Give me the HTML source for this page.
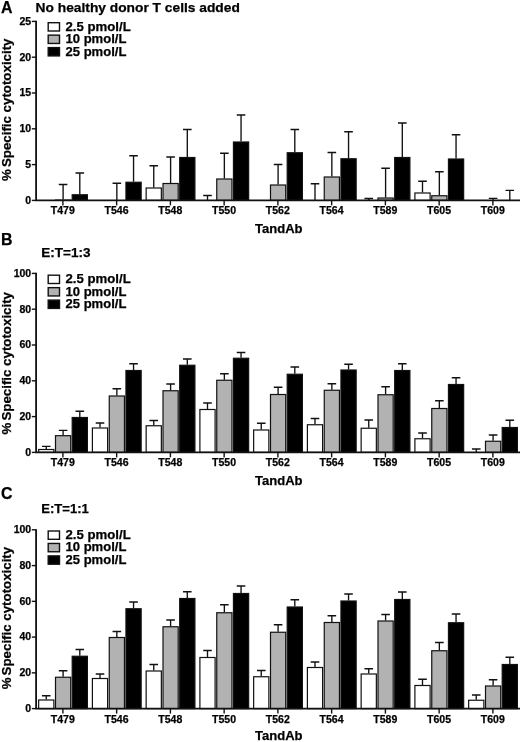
<!DOCTYPE html>
<html lang="en"><head><meta charset="utf-8"><title>TandAb cytotoxicity</title>
<style>
html,body{margin:0;padding:0;background:#fff}
svg{display:block}
text{font-family:"Liberation Sans",Arial,Helvetica,sans-serif;font-weight:bold;fill:#000;stroke:#000;stroke-width:0.25}
.pl{font-size:15.8px}
.tt{font-size:13.3px}
.lg{font-size:12.8px}
.xl{font-size:10.8px}
.yl{font-size:10.5px;text-anchor:end}
.b{stroke:#111;stroke-width:1.2}
.lb{stroke:#111;stroke-width:1.4}
.e{stroke:#111;stroke-width:1.35;fill:none}
.ax{stroke:#111;stroke-width:1.8;fill:none;stroke-linejoin:miter}
.tk{stroke:#111;stroke-width:1.4;fill:none}
</style></head><body>
<svg width="520" height="742" viewBox="0 0 520 742">
<rect width="520" height="742" fill="#fff"/>
<path d="M63.10 199.60V184.50M58.80 184.50H67.40" class="e"/>
<rect x="55.50" y="200.10" width="15.20" height="0.30" fill="#b2b2b2" class="b"/>
<path d="M79.80 194.25V173.00M75.50 173.00H84.10" class="e"/>
<rect x="72.20" y="194.75" width="15.20" height="5.65" fill="#000" class="b"/>
<path d="M116.85 200.40V183.25M112.55 183.25H121.15" class="e"/>
<path d="M133.55 181.75V155.75M129.25 155.75H137.85" class="e"/>
<rect x="125.95" y="182.25" width="15.20" height="18.15" fill="#000" class="b"/>
<path d="M153.75 187.50V165.75M149.45 165.75H158.05" class="e"/>
<rect x="146.15" y="188.00" width="15.20" height="12.40" fill="#fff" class="b"/>
<path d="M170.60 183.00V157.00M166.30 157.00H174.90" class="e"/>
<rect x="163.00" y="183.50" width="15.20" height="16.90" fill="#b2b2b2" class="b"/>
<path d="M187.30 157.00V129.50M183.00 129.50H191.60" class="e"/>
<rect x="179.70" y="157.50" width="15.20" height="42.90" fill="#000" class="b"/>
<path d="M207.50 200.40V195.50M203.20 195.50H211.80" class="e"/>
<path d="M224.35 178.50V153.25M220.05 153.25H228.65" class="e"/>
<rect x="216.75" y="179.00" width="15.20" height="21.40" fill="#b2b2b2" class="b"/>
<path d="M241.05 141.50V115.00M236.75 115.00H245.35" class="e"/>
<rect x="233.45" y="142.00" width="15.20" height="58.40" fill="#000" class="b"/>
<path d="M278.10 184.50V164.50M273.80 164.50H282.40" class="e"/>
<rect x="270.50" y="185.00" width="15.20" height="15.40" fill="#b2b2b2" class="b"/>
<path d="M294.80 152.25V129.50M290.50 129.50H299.10" class="e"/>
<rect x="287.20" y="152.75" width="15.20" height="47.65" fill="#000" class="b"/>
<path d="M315.00 200.40V183.75M310.70 183.75H319.30" class="e"/>
<path d="M331.85 176.50V152.50M327.55 152.50H336.15" class="e"/>
<rect x="324.25" y="177.00" width="15.20" height="23.40" fill="#b2b2b2" class="b"/>
<path d="M348.55 158.25V131.75M344.25 131.75H352.85" class="e"/>
<rect x="340.95" y="158.75" width="15.20" height="41.65" fill="#000" class="b"/>
<path d="M368.75 200.40V198.50M364.45 198.50H373.05" class="e"/>
<path d="M385.60 197.50V168.25M381.30 168.25H389.90" class="e"/>
<rect x="378.00" y="198.00" width="15.20" height="2.40" fill="#b2b2b2" class="b"/>
<path d="M402.30 157.00V123.00M398.00 123.00H406.60" class="e"/>
<rect x="394.70" y="157.50" width="15.20" height="42.90" fill="#000" class="b"/>
<path d="M422.50 192.50V181.25M418.20 181.25H426.80" class="e"/>
<rect x="414.90" y="193.00" width="15.20" height="7.40" fill="#fff" class="b"/>
<path d="M439.35 195.25V171.75M435.05 171.75H443.65" class="e"/>
<rect x="431.75" y="195.75" width="15.20" height="4.65" fill="#b2b2b2" class="b"/>
<path d="M456.05 158.50V134.75M451.75 134.75H460.35" class="e"/>
<rect x="448.45" y="159.00" width="15.20" height="41.40" fill="#000" class="b"/>
<path d="M493.10 200.40V198.40M488.80 198.40H497.40" class="e"/>
<path d="M509.80 200.40V190.40M505.50 190.40H514.10" class="e"/>
<path d="M36.1 20.80V200.40H520" class="ax"/>
<path d="M31.8 200.40H36.1" class="tk"/>
<text x="31.2" y="203.70" class="yl">0</text>
<path d="M31.8 164.60H36.1" class="tk"/>
<text x="31.2" y="167.90" class="yl">5</text>
<path d="M31.8 128.80H36.1" class="tk"/>
<text x="31.2" y="132.10" class="yl">10</text>
<path d="M31.8 93.00H36.1" class="tk"/>
<text x="31.2" y="96.30" class="yl">15</text>
<path d="M31.8 57.20H36.1" class="tk"/>
<text x="31.2" y="60.50" class="yl">20</text>
<path d="M31.8 21.40H36.1" class="tk"/>
<text x="31.2" y="24.70" class="yl">25</text>
<path d="M62.90 200.40V205.40" class="tk"/>
<text x="50.80" y="214.30" class="xl" textLength="24" lengthAdjust="spacingAndGlyphs">T479</text>
<path d="M116.65 200.40V205.40" class="tk"/>
<text x="104.55" y="214.30" class="xl" textLength="24" lengthAdjust="spacingAndGlyphs">T546</text>
<path d="M170.40 200.40V205.40" class="tk"/>
<text x="158.30" y="214.30" class="xl" textLength="24" lengthAdjust="spacingAndGlyphs">T548</text>
<path d="M224.15 200.40V205.40" class="tk"/>
<text x="212.05" y="214.30" class="xl" textLength="24" lengthAdjust="spacingAndGlyphs">T550</text>
<path d="M277.90 200.40V205.40" class="tk"/>
<text x="265.80" y="214.30" class="xl" textLength="24" lengthAdjust="spacingAndGlyphs">T562</text>
<path d="M331.65 200.40V205.40" class="tk"/>
<text x="319.55" y="214.30" class="xl" textLength="24" lengthAdjust="spacingAndGlyphs">T564</text>
<path d="M385.40 200.40V205.40" class="tk"/>
<text x="373.30" y="214.30" class="xl" textLength="24" lengthAdjust="spacingAndGlyphs">T589</text>
<path d="M439.15 200.40V205.40" class="tk"/>
<text x="427.05" y="214.30" class="xl" textLength="24" lengthAdjust="spacingAndGlyphs">T605</text>
<path d="M492.90 200.40V205.40" class="tk"/>
<text x="480.80" y="214.30" class="xl" textLength="24" lengthAdjust="spacingAndGlyphs">T609</text>
<text x="1" y="12.5" class="pl" textLength="11.5" lengthAdjust="spacingAndGlyphs">A</text>
<text x="35.6" y="11.5" class="tt" textLength="204.2" lengthAdjust="spacingAndGlyphs">No healthy donor T cells added</text>
<rect x="48.2" y="22.70" width="11.3" height="8.3" fill="#fff" class="lb"/>
<text x="65.5" y="30.70" class="lg" textLength="65.2" lengthAdjust="spacingAndGlyphs">2.5 pmol/L</text>
<rect x="48.2" y="35.15" width="11.3" height="8.3" fill="#b2b2b2" class="lb"/>
<text x="65.5" y="43.15" class="lg" textLength="60.9" lengthAdjust="spacingAndGlyphs">10 pmol/L</text>
<rect x="48.2" y="47.60" width="11.3" height="8.3" fill="#000" class="lb"/>
<text x="65.5" y="55.60" class="lg" textLength="60.9" lengthAdjust="spacingAndGlyphs">25 pmol/L</text>
<text x="255" y="233.2" class="tt" textLength="47.5" lengthAdjust="spacingAndGlyphs">TandAb</text>
<text transform="translate(10.8 181.0) rotate(-90)" class="tt">%<tspan dx="-1.6"> Specific cytotoxicity</tspan></text>
<path d="M46.25 449.00V446.30M41.95 446.30H50.55" class="e"/>
<rect x="38.65" y="449.50" width="15.20" height="2.90" fill="#fff" class="b"/>
<path d="M63.10 435.20V430.40M58.80 430.40H67.40" class="e"/>
<rect x="55.50" y="435.70" width="15.20" height="16.70" fill="#b2b2b2" class="b"/>
<path d="M79.80 417.00V411.25M75.50 411.25H84.10" class="e"/>
<rect x="72.20" y="417.50" width="15.20" height="34.90" fill="#000" class="b"/>
<path d="M100.00 427.50V423.00M95.70 423.00H104.30" class="e"/>
<rect x="92.40" y="428.00" width="15.20" height="24.40" fill="#fff" class="b"/>
<path d="M116.85 395.50V388.75M112.55 388.75H121.15" class="e"/>
<rect x="109.25" y="396.00" width="15.20" height="56.40" fill="#b2b2b2" class="b"/>
<path d="M133.55 370.00V363.75M129.25 363.75H137.85" class="e"/>
<rect x="125.95" y="370.50" width="15.20" height="81.90" fill="#000" class="b"/>
<path d="M153.75 425.25V420.50M149.45 420.50H158.05" class="e"/>
<rect x="146.15" y="425.75" width="15.20" height="26.65" fill="#fff" class="b"/>
<path d="M170.60 390.25V384.00M166.30 384.00H174.90" class="e"/>
<rect x="163.00" y="390.75" width="15.20" height="61.65" fill="#b2b2b2" class="b"/>
<path d="M187.30 364.75V359.00M183.00 359.00H191.60" class="e"/>
<rect x="179.70" y="365.25" width="15.20" height="87.15" fill="#000" class="b"/>
<path d="M207.50 409.00V403.00M203.20 403.00H211.80" class="e"/>
<rect x="199.90" y="409.50" width="15.20" height="42.90" fill="#fff" class="b"/>
<path d="M224.35 379.75V373.75M220.05 373.75H228.65" class="e"/>
<rect x="216.75" y="380.25" width="15.20" height="72.15" fill="#b2b2b2" class="b"/>
<path d="M241.05 357.75V352.50M236.75 352.50H245.35" class="e"/>
<rect x="233.45" y="358.25" width="15.20" height="94.15" fill="#000" class="b"/>
<path d="M261.25 429.50V423.25M256.95 423.25H265.55" class="e"/>
<rect x="253.65" y="430.00" width="15.20" height="22.40" fill="#fff" class="b"/>
<path d="M278.10 394.00V387.25M273.80 387.25H282.40" class="e"/>
<rect x="270.50" y="394.50" width="15.20" height="57.90" fill="#b2b2b2" class="b"/>
<path d="M294.80 373.75V367.00M290.50 367.00H299.10" class="e"/>
<rect x="287.20" y="374.25" width="15.20" height="78.15" fill="#000" class="b"/>
<path d="M315.00 424.25V418.50M310.70 418.50H319.30" class="e"/>
<rect x="307.40" y="424.75" width="15.20" height="27.65" fill="#fff" class="b"/>
<path d="M331.85 389.75V383.75M327.55 383.75H336.15" class="e"/>
<rect x="324.25" y="390.25" width="15.20" height="62.15" fill="#b2b2b2" class="b"/>
<path d="M348.55 369.50V364.25M344.25 364.25H352.85" class="e"/>
<rect x="340.95" y="370.00" width="15.20" height="82.40" fill="#000" class="b"/>
<path d="M368.75 427.75V420.00M364.45 420.00H373.05" class="e"/>
<rect x="361.15" y="428.25" width="15.20" height="24.15" fill="#fff" class="b"/>
<path d="M385.60 394.25V386.75M381.30 386.75H389.90" class="e"/>
<rect x="378.00" y="394.75" width="15.20" height="57.65" fill="#b2b2b2" class="b"/>
<path d="M402.30 370.00V363.75M398.00 363.75H406.60" class="e"/>
<rect x="394.70" y="370.50" width="15.20" height="81.90" fill="#000" class="b"/>
<path d="M422.50 438.25V433.00M418.20 433.00H426.80" class="e"/>
<rect x="414.90" y="438.75" width="15.20" height="13.65" fill="#fff" class="b"/>
<path d="M439.35 408.00V400.75M435.05 400.75H443.65" class="e"/>
<rect x="431.75" y="408.50" width="15.20" height="43.90" fill="#b2b2b2" class="b"/>
<path d="M456.05 384.00V377.75M451.75 377.75H460.35" class="e"/>
<rect x="448.45" y="384.50" width="15.20" height="67.90" fill="#000" class="b"/>
<path d="M476.25 452.40V449.00M471.95 449.00H480.55" class="e"/>
<path d="M493.10 440.75V435.00M488.80 435.00H497.40" class="e"/>
<rect x="485.50" y="441.25" width="15.20" height="11.15" fill="#b2b2b2" class="b"/>
<path d="M509.80 427.00V420.25M505.50 420.25H514.10" class="e"/>
<rect x="502.20" y="427.50" width="15.20" height="24.90" fill="#000" class="b"/>
<path d="M36.1 272.80V452.40H520" class="ax"/>
<path d="M31.8 452.40H36.1" class="tk"/>
<text x="31.2" y="455.70" class="yl">0</text>
<path d="M31.8 416.60H36.1" class="tk"/>
<text x="31.2" y="419.90" class="yl">20</text>
<path d="M31.8 380.80H36.1" class="tk"/>
<text x="31.2" y="384.10" class="yl">40</text>
<path d="M31.8 345.00H36.1" class="tk"/>
<text x="31.2" y="348.30" class="yl">60</text>
<path d="M31.8 309.20H36.1" class="tk"/>
<text x="31.2" y="312.50" class="yl">80</text>
<path d="M31.8 273.40H36.1" class="tk"/>
<text x="31.2" y="276.70" class="yl">100</text>
<path d="M62.90 452.40V457.40" class="tk"/>
<text x="50.80" y="466.40" class="xl" textLength="24" lengthAdjust="spacingAndGlyphs">T479</text>
<path d="M116.65 452.40V457.40" class="tk"/>
<text x="104.55" y="466.40" class="xl" textLength="24" lengthAdjust="spacingAndGlyphs">T546</text>
<path d="M170.40 452.40V457.40" class="tk"/>
<text x="158.30" y="466.40" class="xl" textLength="24" lengthAdjust="spacingAndGlyphs">T548</text>
<path d="M224.15 452.40V457.40" class="tk"/>
<text x="212.05" y="466.40" class="xl" textLength="24" lengthAdjust="spacingAndGlyphs">T550</text>
<path d="M277.90 452.40V457.40" class="tk"/>
<text x="265.80" y="466.40" class="xl" textLength="24" lengthAdjust="spacingAndGlyphs">T562</text>
<path d="M331.65 452.40V457.40" class="tk"/>
<text x="319.55" y="466.40" class="xl" textLength="24" lengthAdjust="spacingAndGlyphs">T564</text>
<path d="M385.40 452.40V457.40" class="tk"/>
<text x="373.30" y="466.40" class="xl" textLength="24" lengthAdjust="spacingAndGlyphs">T589</text>
<path d="M439.15 452.40V457.40" class="tk"/>
<text x="427.05" y="466.40" class="xl" textLength="24" lengthAdjust="spacingAndGlyphs">T605</text>
<path d="M492.90 452.40V457.40" class="tk"/>
<text x="480.80" y="466.40" class="xl" textLength="24" lengthAdjust="spacingAndGlyphs">T609</text>
<text x="1" y="244.5" class="pl" textLength="11.5" lengthAdjust="spacingAndGlyphs">B</text>
<text x="41.3" y="256.8" class="tt" textLength="49.2" lengthAdjust="spacingAndGlyphs">E:T=1:3</text>
<rect x="48.2" y="275.20" width="11.3" height="8.3" fill="#fff" class="lb"/>
<text x="65.5" y="283.20" class="lg" textLength="65.2" lengthAdjust="spacingAndGlyphs">2.5 pmol/L</text>
<rect x="48.2" y="287.65" width="11.3" height="8.3" fill="#b2b2b2" class="lb"/>
<text x="65.5" y="295.65" class="lg" textLength="60.9" lengthAdjust="spacingAndGlyphs">10 pmol/L</text>
<rect x="48.2" y="300.10" width="11.3" height="8.3" fill="#000" class="lb"/>
<text x="65.5" y="308.10" class="lg" textLength="60.9" lengthAdjust="spacingAndGlyphs">25 pmol/L</text>
<text x="255" y="485" class="tt" textLength="47.5" lengthAdjust="spacingAndGlyphs">TandAb</text>
<text transform="translate(10.8 434.5) rotate(-90)" class="tt">%<tspan dx="-1.6"> Specific cytotoxicity</tspan></text>
<path d="M46.25 699.50V695.75M41.95 695.75H50.55" class="e"/>
<rect x="38.65" y="700.00" width="15.20" height="8.60" fill="#fff" class="b"/>
<path d="M63.10 676.75V670.75M58.80 670.75H67.40" class="e"/>
<rect x="55.50" y="677.25" width="15.20" height="31.35" fill="#b2b2b2" class="b"/>
<path d="M79.80 655.75V649.50M75.50 649.50H84.10" class="e"/>
<rect x="72.20" y="656.25" width="15.20" height="52.35" fill="#000" class="b"/>
<path d="M100.00 678.00V674.00M95.70 674.00H104.30" class="e"/>
<rect x="92.40" y="678.50" width="15.20" height="30.10" fill="#fff" class="b"/>
<path d="M116.85 637.00V631.50M112.55 631.50H121.15" class="e"/>
<rect x="109.25" y="637.50" width="15.20" height="71.10" fill="#b2b2b2" class="b"/>
<path d="M133.55 608.25V602.00M129.25 602.00H137.85" class="e"/>
<rect x="125.95" y="608.75" width="15.20" height="99.85" fill="#000" class="b"/>
<path d="M153.75 670.50V664.50M149.45 664.50H158.05" class="e"/>
<rect x="146.15" y="671.00" width="15.20" height="37.60" fill="#fff" class="b"/>
<path d="M170.60 626.25V620.00M166.30 620.00H174.90" class="e"/>
<rect x="163.00" y="626.75" width="15.20" height="81.85" fill="#b2b2b2" class="b"/>
<path d="M187.30 598.00V591.75M183.00 591.75H191.60" class="e"/>
<rect x="179.70" y="598.50" width="15.20" height="110.10" fill="#000" class="b"/>
<path d="M207.50 657.00V650.50M203.20 650.50H211.80" class="e"/>
<rect x="199.90" y="657.50" width="15.20" height="51.10" fill="#fff" class="b"/>
<path d="M224.35 612.25V604.75M220.05 604.75H228.65" class="e"/>
<rect x="216.75" y="612.75" width="15.20" height="95.85" fill="#b2b2b2" class="b"/>
<path d="M241.05 593.00V586.00M236.75 586.00H245.35" class="e"/>
<rect x="233.45" y="593.50" width="15.20" height="115.10" fill="#000" class="b"/>
<path d="M261.25 676.25V670.50M256.95 670.50H265.55" class="e"/>
<rect x="253.65" y="676.75" width="15.20" height="31.85" fill="#fff" class="b"/>
<path d="M278.10 631.75V624.75M273.80 624.75H282.40" class="e"/>
<rect x="270.50" y="632.25" width="15.20" height="76.35" fill="#b2b2b2" class="b"/>
<path d="M294.80 606.50V599.75M290.50 599.75H299.10" class="e"/>
<rect x="287.20" y="607.00" width="15.20" height="101.60" fill="#000" class="b"/>
<path d="M315.00 667.00V662.00M310.70 662.00H319.30" class="e"/>
<rect x="307.40" y="667.50" width="15.20" height="41.10" fill="#fff" class="b"/>
<path d="M331.85 622.00V615.75M327.55 615.75H336.15" class="e"/>
<rect x="324.25" y="622.50" width="15.20" height="86.10" fill="#b2b2b2" class="b"/>
<path d="M348.55 600.50V594.00M344.25 594.00H352.85" class="e"/>
<rect x="340.95" y="601.00" width="15.20" height="107.60" fill="#000" class="b"/>
<path d="M368.75 673.50V668.75M364.45 668.75H373.05" class="e"/>
<rect x="361.15" y="674.00" width="15.20" height="34.60" fill="#fff" class="b"/>
<path d="M385.60 620.50V614.50M381.30 614.50H389.90" class="e"/>
<rect x="378.00" y="621.00" width="15.20" height="87.60" fill="#b2b2b2" class="b"/>
<path d="M402.30 599.00V592.00M398.00 592.00H406.60" class="e"/>
<rect x="394.70" y="599.50" width="15.20" height="109.10" fill="#000" class="b"/>
<path d="M422.50 685.00V679.25M418.20 679.25H426.80" class="e"/>
<rect x="414.90" y="685.50" width="15.20" height="23.10" fill="#fff" class="b"/>
<path d="M439.35 650.25V642.50M435.05 642.50H443.65" class="e"/>
<rect x="431.75" y="650.75" width="15.20" height="57.85" fill="#b2b2b2" class="b"/>
<path d="M456.05 622.25V614.00M451.75 614.00H460.35" class="e"/>
<rect x="448.45" y="622.75" width="15.20" height="85.85" fill="#000" class="b"/>
<path d="M476.25 699.75V695.00M471.95 695.00H480.55" class="e"/>
<rect x="468.65" y="700.25" width="15.20" height="8.35" fill="#fff" class="b"/>
<path d="M493.10 685.50V679.75M488.80 679.75H497.40" class="e"/>
<rect x="485.50" y="686.00" width="15.20" height="22.60" fill="#b2b2b2" class="b"/>
<path d="M509.80 664.00V657.25M505.50 657.25H514.10" class="e"/>
<rect x="502.20" y="664.50" width="15.20" height="44.10" fill="#000" class="b"/>
<path d="M36.1 529.20V708.60H520" class="ax"/>
<path d="M31.8 708.60H36.1" class="tk"/>
<text x="31.2" y="711.90" class="yl">0</text>
<path d="M31.8 672.85H36.1" class="tk"/>
<text x="31.2" y="676.15" class="yl">20</text>
<path d="M31.8 637.10H36.1" class="tk"/>
<text x="31.2" y="640.40" class="yl">40</text>
<path d="M31.8 601.35H36.1" class="tk"/>
<text x="31.2" y="604.65" class="yl">60</text>
<path d="M31.8 565.60H36.1" class="tk"/>
<text x="31.2" y="568.90" class="yl">80</text>
<path d="M31.8 529.80H36.1" class="tk"/>
<text x="31.2" y="533.10" class="yl">100</text>
<path d="M62.90 708.60V713.60" class="tk"/>
<text x="50.80" y="722.80" class="xl" textLength="24" lengthAdjust="spacingAndGlyphs">T479</text>
<path d="M116.65 708.60V713.60" class="tk"/>
<text x="104.55" y="722.80" class="xl" textLength="24" lengthAdjust="spacingAndGlyphs">T546</text>
<path d="M170.40 708.60V713.60" class="tk"/>
<text x="158.30" y="722.80" class="xl" textLength="24" lengthAdjust="spacingAndGlyphs">T548</text>
<path d="M224.15 708.60V713.60" class="tk"/>
<text x="212.05" y="722.80" class="xl" textLength="24" lengthAdjust="spacingAndGlyphs">T550</text>
<path d="M277.90 708.60V713.60" class="tk"/>
<text x="265.80" y="722.80" class="xl" textLength="24" lengthAdjust="spacingAndGlyphs">T562</text>
<path d="M331.65 708.60V713.60" class="tk"/>
<text x="319.55" y="722.80" class="xl" textLength="24" lengthAdjust="spacingAndGlyphs">T564</text>
<path d="M385.40 708.60V713.60" class="tk"/>
<text x="373.30" y="722.80" class="xl" textLength="24" lengthAdjust="spacingAndGlyphs">T589</text>
<path d="M439.15 708.60V713.60" class="tk"/>
<text x="427.05" y="722.80" class="xl" textLength="24" lengthAdjust="spacingAndGlyphs">T605</text>
<path d="M492.90 708.60V713.60" class="tk"/>
<text x="480.80" y="722.80" class="xl" textLength="24" lengthAdjust="spacingAndGlyphs">T609</text>
<text x="1" y="499.2" class="pl" textLength="11.5" lengthAdjust="spacingAndGlyphs">C</text>
<text x="41.3" y="512.5" class="tt" textLength="47.5" lengthAdjust="spacingAndGlyphs">E:T=1:1</text>
<rect x="48.2" y="531.00" width="11.3" height="8.3" fill="#fff" class="lb"/>
<text x="65.5" y="539.00" class="lg" textLength="65.2" lengthAdjust="spacingAndGlyphs">2.5 pmol/L</text>
<rect x="48.2" y="543.45" width="11.3" height="8.3" fill="#b2b2b2" class="lb"/>
<text x="65.5" y="551.45" class="lg" textLength="60.9" lengthAdjust="spacingAndGlyphs">10 pmol/L</text>
<rect x="48.2" y="555.90" width="11.3" height="8.3" fill="#000" class="lb"/>
<text x="65.5" y="563.90" class="lg" textLength="60.9" lengthAdjust="spacingAndGlyphs">25 pmol/L</text>
<text x="255" y="740" class="tt" textLength="47.5" lengthAdjust="spacingAndGlyphs">TandAb</text>
<text transform="translate(10.8 689.3) rotate(-90)" class="tt">%<tspan dx="-1.6"> Specific cytotoxicity</tspan></text>
</svg>
</body></html>
